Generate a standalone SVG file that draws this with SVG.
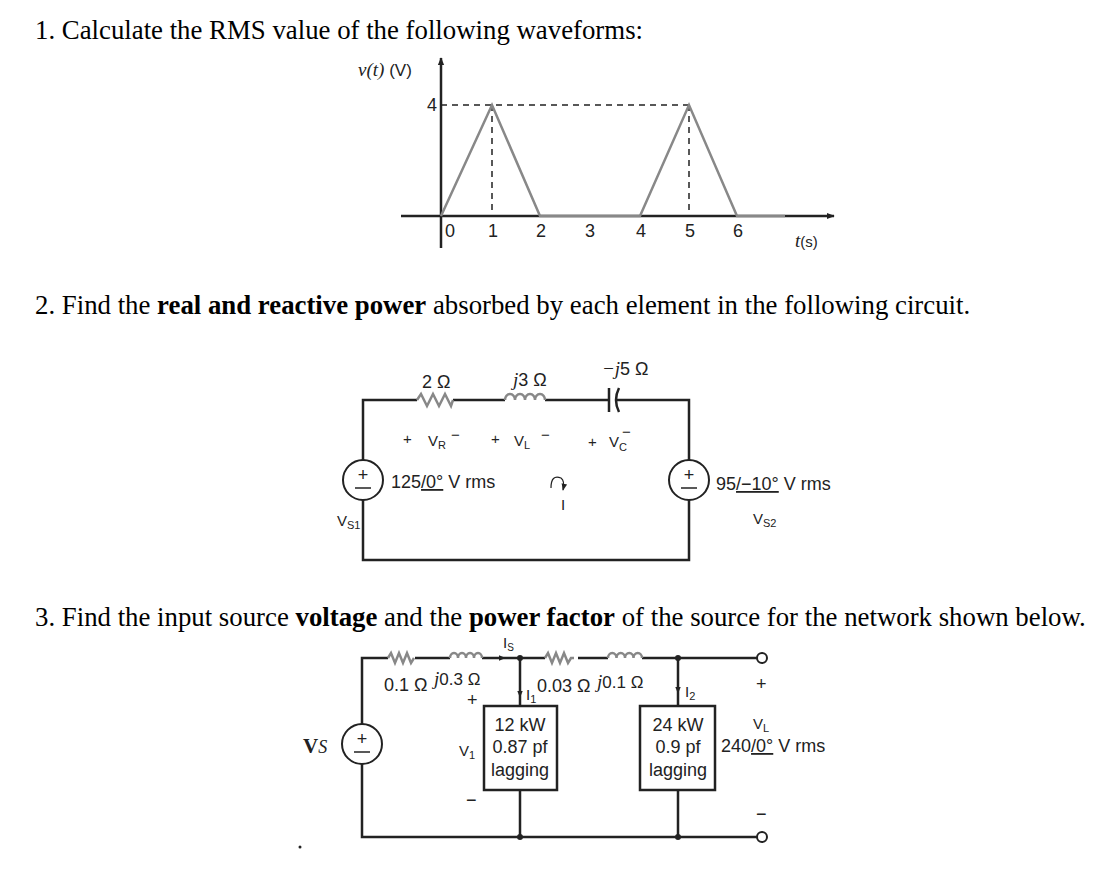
<svg xmlns="http://www.w3.org/2000/svg" width="1112" height="870" viewBox="0 0 1112 870">
<defs>
<marker id="ah" viewBox="0 0 10 10" refX="9" refY="5" markerWidth="8" markerHeight="8" orient="auto" markerUnits="userSpaceOnUse"><path d="M0,1 L10,5 L0,9 z" fill="#222"/></marker>
<marker id="sa" viewBox="0 0 10 10" refX="9" refY="5" markerWidth="7" markerHeight="7" orient="auto" markerUnits="userSpaceOnUse"><path d="M0,1 L10,5 L0,9 z" fill="#222"/></marker>
</defs>
<style>
.h{font-family:"Liberation Serif",serif;font-size:26.8px;fill:#000}
.s{font-family:"Liberation Sans",Arial,sans-serif;font-size:18px;fill:#222}
.ss{font-family:"Liberation Sans",Arial,sans-serif;font-size:15px;fill:#222}
.it{font-family:"Liberation Serif",serif;font-style:italic;font-size:19px;fill:#222}
.w{stroke:#222;stroke-width:2.5;fill:none}
.g{stroke:#888;stroke-width:2.5;fill:none}
.d{stroke:#222;stroke-width:1.5;stroke-dasharray:6,5;fill:none}
.c{stroke:#222;stroke-width:2;fill:#fff}
</style>
<rect width="1112" height="870" fill="#fff"/>
<text class="h" x="35" y="39">1.  Calculate the RMS value of the following waveforms:</text>
<text class="h" x="35" y="314">2.  Find the <tspan font-weight="bold">real and reactive power</tspan> absorbed by each element in the following circuit.</text>
<text class="h" x="35" y="626">3.  Find the input source <tspan font-weight="bold">voltage</tspan> and the <tspan font-weight="bold">power factor</tspan> of the source for the network shown below.</text>

<g id="graph">
<line class="w" x1="441" y1="248" x2="441" y2="58" stroke-width="1.5" marker-end="url(#ah)"/>
<line class="w" x1="401" y1="216" x2="834" y2="216" stroke-width="1.5" marker-end="url(#ah)"/>
<path class="d" d="M441,105 H689 M492,105 V216 M689,105 V216"/>
<path class="g" d="M441,216 L492,105 L540,216 L640,216 L689,105 L737,216 L785,216"/>
<text class="s" x="427" y="111" font-size="14">4</text>
<text class="s" x="445" y="237" font-size="14">0</text>
<text class="s" x="488" y="237" font-size="14">1</text>
<text class="s" x="536" y="237" font-size="14">2</text>
<text class="s" x="585" y="237" font-size="14">3</text>
<text class="s" x="636" y="237" font-size="14">4</text>
<text class="s" x="685" y="237" font-size="14">5</text>
<text class="s" x="733" y="237" font-size="14">6</text>
<text class="it" x="358" y="76">v(t) <tspan font-style="normal" font-family="Liberation Sans" font-size="17">(V)</tspan></text>
<text class="it" x="795" y="247" font-size="17">t<tspan font-style="normal" font-family="Liberation Sans" font-size="15">(s)</tspan></text>
</g>

<g id="circuit2">
<path class="w" d="M363,460 V400 H417 M453,400 H505 M545,400 H609 M617,400 H689 V460 M689,500 V560 H363 V500"/>
<path class="g" d="M417,400 l4,-6 l6,12 l6,-12 l6,12 l6,-12 l6,12 l2,-6"/>
<path class="g" d="M505,400 a5,6 0 0 1 10,0 a5,6 0 0 1 10,0 a5,6 0 0 1 10,0 a5,6 0 0 1 10,0"/>
<path class="w" d="M609,388 V412 M619,388 q-6,12 0,24"/>
<circle class="c" cx="363" cy="480" r="20"/>
<text class="s" x="363" y="481" text-anchor="middle" font-size="20">+</text>
<line x1="355" y1="488" x2="371" y2="488" stroke="#222" stroke-width="1.5"/>
<circle class="c" cx="689" cy="480" r="20"/>
<text class="s" x="689" y="481" text-anchor="middle" font-size="20">+</text>
<line x1="681" y1="488" x2="697" y2="488" stroke="#222" stroke-width="1.5"/>
<text class="s" x="422" y="388">2 Ω</text>
<text class="it" x="513" y="386">j<tspan font-style="normal" font-family="Liberation Sans" font-size="18">3 Ω</tspan></text>
<text class="it" x="602" y="375">−j<tspan font-style="normal" font-family="Liberation Sans" font-size="18">5 Ω</tspan></text>
<text class="ss" x="403" y="444">+</text><text class="ss" x="428" y="446">V<tspan font-size="11" dy="3">R</tspan></text><text class="ss" x="451" y="440">−</text>
<text class="ss" x="491" y="444">+</text><text class="ss" x="514" y="446">V<tspan font-size="11" dy="3">L</tspan></text><text class="ss" x="541" y="440">−</text>
<text class="ss" x="588" y="447">+</text><text class="ss" x="609" y="447">V<tspan font-size="11" dy="4">C</tspan></text><text class="ss" x="622" y="437">−</text>
<text class="s" x="391" y="488">125<tspan text-decoration="underline">/0°</tspan> V rms</text>
<text class="s" x="716" y="490">95<tspan text-decoration="underline">/−10°</tspan> V rms</text>
<path d="M551,488 q0,-14 10,-10 q4,3 2,12" fill="none" stroke="#222" stroke-width="1.2" marker-end="url(#sa)"/>
<text class="ss" x="563" y="510" text-anchor="middle">I</text>
<text class="ss" x="337" y="526">V<tspan font-size="11" dy="3">S1</tspan></text>
<text class="ss" x="753" y="524">V<tspan font-size="11" dy="3">S2</tspan></text>
</g>

<g id="circuit3">
<path class="w" d="M362,724 V658 H388 M415,658 H450 M482,658 H545 M578,658 H608 M642,658 H757 M362,764 V837 H757 M520,658 V706 M520,790 V837 M678,658 V706 M678,790 V837"/>
<path class="g" d="M388,658 l3,-5 l4,10 l4,-10 l4,10 l4,-10 l4,10 l3,-5"/>
<path class="g" d="M450,658 a4,5 0 0 1 8,0 a4,5 0 0 1 8,0 a4,5 0 0 1 8,0 a4,5 0 0 1 8,0"/>
<path class="g" d="M545,658 l3,-5 l4,10 l4,-10 l4,10 l4,-10 l4,10 l3,-5 l3,0"/>
<path class="g" d="M608,658 a4.25,5 0 0 1 8.5,0 a4.25,5 0 0 1 8.5,0 a4.25,5 0 0 1 8.5,0 a4.25,5 0 0 1 8.5,0"/>
<line x1="490" y1="658" x2="505" y2="658" stroke="#222" stroke-width="1" marker-end="url(#sa)"/>
<line x1="520" y1="680" x2="520" y2="697" stroke="#222" stroke-width="1" marker-end="url(#sa)"/>
<line x1="678" y1="676" x2="678" y2="693" stroke="#222" stroke-width="1" marker-end="url(#sa)"/>
<circle cx="520" cy="658" r="3" fill="#222"/><circle cx="678" cy="658" r="3" fill="#222"/>
<circle cx="520" cy="837" r="3" fill="#222"/><circle cx="678" cy="837" r="3" fill="#222"/>
<circle class="c" cx="762" cy="658" r="5"/><circle class="c" cx="762" cy="837" r="5"/>
<circle class="c" cx="362" cy="744" r="20"/>
<text class="s" x="362" y="745" text-anchor="middle" font-size="20">+</text>
<line x1="354" y1="752" x2="370" y2="752" stroke="#222" stroke-width="1.5"/>
<rect x="484" y="706" width="73" height="84" fill="#fff" stroke="#222" stroke-width="2.5"/>
<rect x="640" y="706" width="75" height="84" fill="#fff" stroke="#222" stroke-width="2.5"/>
<text class="s" x="520" y="731" text-anchor="middle">12 kW</text>
<text class="s" x="520" y="753" text-anchor="middle">0.87 pf</text>
<text class="s" x="520" y="776" text-anchor="middle">lagging</text>
<text class="s" x="678" y="731" text-anchor="middle">24 kW</text>
<text class="s" x="678" y="753" text-anchor="middle">0.9 pf</text>
<text class="s" x="678" y="776" text-anchor="middle">lagging</text>
<text class="s" x="384" y="691" font-size="17">0.1 Ω</text>
<text class="it" x="434" y="685">j<tspan font-style="normal" font-family="Liberation Sans" font-size="17">0.3 Ω</tspan></text>
<text class="s" x="537" y="692" font-size="17">0.03 Ω</text>
<text class="it" x="597" y="688">j<tspan font-style="normal" font-family="Liberation Sans" font-size="17">0.1 Ω</tspan></text>
<text class="ss" x="503" y="648" font-size="13">I<tspan font-size="10" dy="3">S</tspan></text>
<text class="ss" x="526" y="700">I<tspan font-size="11" dy="3">1</tspan></text>
<text class="ss" x="685" y="697">I<tspan font-size="11" dy="3">2</tspan></text>
<text class="s" x="467" y="706">+</text>
<text class="ss" x="459" y="756">V<tspan font-size="11" dy="3">1</tspan></text>
<text class="s" x="466" y="806">−</text>
<text x="303" y="753" font-family="Liberation Serif" font-weight="bold" font-size="21" fill="#222">V<tspan font-style="italic" font-weight="normal" font-size="18">S</tspan></text>
<text class="s" x="756" y="690">+</text>
<text class="ss" x="753" y="729">V<tspan font-size="11" dy="3">L</tspan></text>
<text class="s" x="721" y="752" font-size="17">240<tspan text-decoration="underline">/0°</tspan> V rms</text>
<text class="s" x="756" y="820">−</text>
<circle cx="300" cy="847" r="1.5" fill="#222"/>
</g>
</svg>
